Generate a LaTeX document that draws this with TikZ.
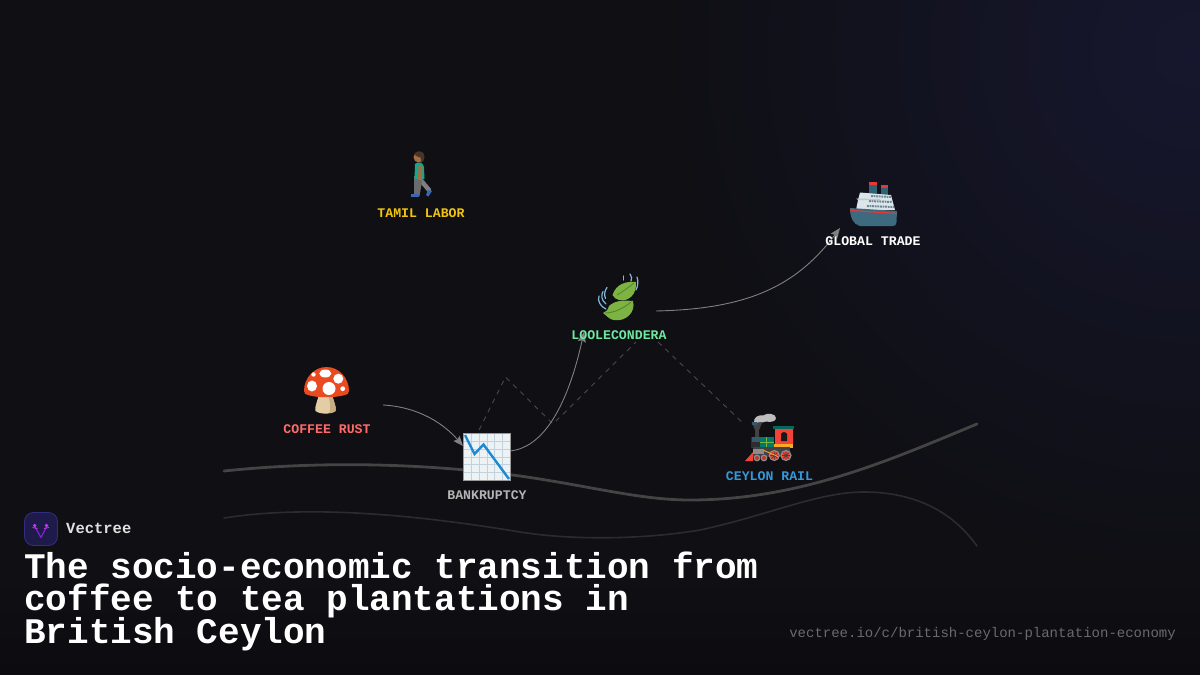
\documentclass[tikz,border=0pt]{standalone}
\usepackage{fontspec}
\setmonofont{Liberation Mono}
\usetikzlibrary{arrows.meta,calc}
\definecolor{bgbase}{HTML}{0F0F14}
\definecolor{bgdark}{HTML}{0C0C10}
\definecolor{glow}{HTML}{16172E}
\definecolor{ridge}{HTML}{444444}
\definecolor{ridgethin}{HTML}{2C2C30}
\definecolor{linkc}{HTML}{808080}
\definecolor{dashc}{HTML}{4A4A4E}
\definecolor{capred}{HTML}{EA4A20}
\definecolor{stemc}{HTML}{E3CDA4}
\definecolor{stemd}{HTML}{C9AE82}
\definecolor{gridc}{HTML}{C3D2DA}
\definecolor{paper}{HTML}{EDF2F5}
\definecolor{chartblue}{HTML}{1B8AD3}
\definecolor{skin}{HTML}{A56C43}
\definecolor{hair}{HTML}{4A3428}
\definecolor{shirt}{HTML}{13A88E}
\definecolor{pants}{HTML}{7E7E7E}
\definecolor{shoe}{HTML}{3A66B5}
\definecolor{hull}{HTML}{3E6A80}
\definecolor{funnel}{HTML}{2F6275}
\definecolor{redc}{HTML}{E53935}
\definecolor{deck}{HTML}{DCE5EA}
\definecolor{deckd}{HTML}{6F8794}
\definecolor{leafg}{HTML}{7CB342}
\definecolor{leafd}{HTML}{558B2F}
\definecolor{wind}{HTML}{81B9DC}
\definecolor{cab}{HTML}{F44336}
\definecolor{roofc}{HTML}{00695C}
\definecolor{bandy}{HTML}{F9A825}
\definecolor{boiler}{HTML}{00796B}
\definecolor{iron}{HTML}{424242}
\definecolor{steel}{HTML}{37596B}
\definecolor{smoke}{HTML}{BDBDBD}
\definecolor{logobg}{HTML}{1E1B4B}
\definecolor{logoedge}{HTML}{312E81}
\definecolor{logodark}{HTML}{7E22CE}
\definecolor{logolite}{HTML}{C03DE0}
\definecolor{cyellow}{HTML}{F1C40F}
\definecolor{cgreen}{HTML}{6EE7A0}
\definecolor{cred}{HTML}{FF6B6B}
\definecolor{cgray}{HTML}{B4B4B4}
\definecolor{cblue}{HTML}{3498DB}
\definecolor{urlc}{HTML}{6B6B6B}
\tikzset{
  x=1pt,y=-1pt,
  nodelabel/.style={font=\ttfamily\bfseries\fontsize{13.2}{13.2}\selectfont,anchor=base,inner sep=0pt},
  titleline/.style={font=\ttfamily\bfseries\fontsize{36}{36}\selectfont,anchor=base west,inner sep=0pt,text=white},
  iconbox/.style={inner sep=0pt,minimum size=48pt,draw=none},
  flow/.style={draw=linkc,line width=.9pt,-{Stealth[length=10pt,width=8pt,inset=1.5pt,color=linkc]}},
  dashlink/.style={draw=dashc,line width=.9pt,dash pattern=on 5pt off 5pt},
  windline/.style={draw=wind,line width=1.2pt,line cap=round},
}
\begin{document}
\begin{tikzpicture}
\useasboundingbox (0,0) rectangle (1200,675);
\fill[bgbase] (0,0) rectangle (1200,675);
\begin{scope}
\clip (0,0) rectangle (1200,675);
\shade[inner color=glow,outer color=bgbase] (1190,50) circle[radius=520];
\shade[top color=bgbase,bottom color=bgdark] (0,575) rectangle (1200,675);
\end{scope}
% ground curves
\draw[ridge,line width=2.8pt,line cap=round] (224,471) .. controls (320,461) and (420,463) .. (520,476) .. controls (590,486) and (640,500) .. (690,500) .. controls (800,500) and (890,460) .. (977,424);
\draw[ridgethin,line width=1.6pt,line cap=round] (224,518) .. controls (300,506) and (400,512) .. (520,532) .. controls (570,540) and (640,540) .. (700,530) .. controls (770,515) and (820,491) .. (867,492) .. controls (920,493) and (955,515) .. (977,546);
% icon anchors
\node[iconbox] (walker) at (419,174) {};
\node[iconbox] (ship) at (873,204) {};
\node[iconbox] (leaf) at (619,297) {};
\node[iconbox] (rust) at (326,390) {};
\node[iconbox] (chart) at (487,457) {};
\node[iconbox] (train) at (770,438) {};
\coordinate (rustout) at ([shift={(57,15)}]rust.center);
\coordinate (chartin) at ([shift={(-24,-11)}]chart.center);
\coordinate (chartout) at ([shift={(23,-6)}]chart.center);
\coordinate (leafin) at ([shift={(-35,35)}]leaf.center);
\coordinate (leafout) at ([shift={(37,14)}]leaf.center);
\coordinate (shipin) at ([shift={(-33,24)}]ship.center);
\coordinate (bend1) at (505.5,377);
\coordinate (bend2) at (553,424);
% connectors
\draw[dashlink] ([shift={(-8,-27)}]chart.center) -- (bend1) -- (bend2) -- ([shift={(17,45)}]leaf.center);
\draw[dashlink] ([shift={(39,45)}]leaf.center) -- ([shift={(-26,-14)}]train.center);
\draw[flow] (rustout) .. controls (420,407) and (445,425) .. (chartin);
\draw[flow] (chartout) .. controls (548,447) and (570,395) .. (leafin);
\draw[flow] (leafout) .. controls (745,309) and (795,288) .. (shipin);
% walker
\draw[pants,line width=4.5pt,line cap=round,line join=round] (418,177) -- (429,190);
\fill[pants!85!black] (414,176) -- (423,176) -- (419.5,196) -- (414,196) -- cycle;
\fill[shirt] (415,164) .. controls (418,161) and (423,162) .. (424,167) -- (424.5,179) -- (414.5,179) -- cycle;
\fill[skin] (418.5,165.5) -- (422.5,165.5) -- (422,180) -- (418,180) -- cycle;
\fill[skin] (418.7,157.3) circle[radius=5.2];
\fill[hair] (414,154) .. controls (417,149.5) and (424.5,150.5) .. (424.5,156.5) .. controls (424.5,159.5) and (423,162) .. (421.5,163) -- (420.5,157.5) .. controls (418,157) and (415.5,156) .. (414,154) -- cycle;
\fill[shoe] (411,193.5) -- (418.5,193.5) -- (418.5,197) -- (411,197) -- cycle;
\fill[shoe] (428,190) -- (432,191) -- (428.5,196.5) -- (426,195) -- cycle;
% ship
\fill[funnel] (869,183) rectangle (876.5,195);
\fill[redc] (869,181.5) rectangle (876.5,185);
\fill[funnel] (881,186) rectangle (888,196);
\fill[redc] (881,184.5) rectangle (888,188);
\fill[deck] (860,192.5) -- (891,195) -- (895,210) -- (856,210) -- (858,200) -- cycle;
\foreach \yy/\xa/\xb in {196/871/891,201/869/892,206/867/894}{
  \draw[deckd,line width=2pt,dash pattern=on 1.8pt off .8pt] (\xa,\yy) -- (\xb,\yy+1);
}
\fill[deck!70!deckd] (856,198.5) -- (880,199) -- (880,200) -- (858,200) -- cycle;
\fill[hull] (850,208) -- (897,211) -- (896.5,222) .. controls (896.5,225) and (895,226) .. (893,226) -- (860,226) .. controls (853,224.5) and (850,217) .. (850,208) -- cycle;
\draw[redc,line width=1.2pt] (850,210.5) -- (897,213.5);
% leaves
\fill[leafg] (612.5,295) .. controls (616,284) and (626,281) .. (636,282) .. controls (637,294) and (629,302) .. (619,300) .. controls (616,299.5) and (614,297.5) .. (612.5,295) -- cycle;
\draw[leafd,line width=.9pt] (617,295) .. controls (622,292) and (628,288) .. (634,283);
\fill[leafg] (603,313) .. controls (606,312) and (608,310) .. (609,306) .. controls (615,300.5) and (623,300) .. (633,301) .. controls (636,312) and (626,322) .. (614,320) .. controls (610,320) and (607,316) .. (603,313) -- cycle;
\draw[leafd,line width=1pt] (605,313) .. controls (614,313) and (624,308) .. (631,302);
\draw[windline] (607,287.5) .. controls (604.5,291) and (604,295) .. (605.5,298.5);
\draw[windline] (603,291.5) .. controls (601,295) and (601,300) .. (606,304);
\draw[windline] (599,296) .. controls (597,301) and (601,307) .. (606,309);
\draw[windline] (623.5,276) -- (623.5,280);
\draw[windline] (630,274) .. controls (632,276) and (632,279) .. (631,281);
\draw[windline] (637,277) .. controls (638.5,281) and (638,286) .. (636,290);
% mushroom
\fill[stemc] (319,393) -- (332,393) .. controls (333,401) and (337,407) .. (335.5,411) .. controls (331,414.5) and (320,414.5) .. (315.5,411) .. controls (314,407) and (318,401) .. (319,393) -- cycle;
\fill[stemd] (328,394) -- (332,394) .. controls (333,401) and (337,407) .. (335.5,411) .. controls (334,412.5) and (331,413) .. (329,413) .. controls (332,406) and (329,400) .. (328,394) -- cycle;
\fill[capred] (304,391) .. controls (304,378) and (314,367) .. (326.5,367) .. controls (339,367) and (349,378) .. (349,391) .. controls (349,394) and (347,394.5) .. (345,395) .. controls (335,398) and (317,398) .. (308,395) .. controls (306,394.5) and (304,394) .. (304,391) -- cycle;
\fill[white] (325.3,373.5) ellipse[x radius=6,y radius=4];
\fill[white] (338.3,378.7) ellipse[x radius=5,y radius=5];
\fill[white] (312,386) ellipse[x radius=5,y radius=5.5];
\fill[white] (329,388.5) ellipse[x radius=6.5,y radius=6.5];
\fill[white] (342.7,388.7) circle[radius=2.4];
\fill[white] (313.5,374.5) circle[radius=2.2];
% chart
\fill[paper] (463.5,433.5) rectangle (510.5,480.5);
\foreach \k in {1,...,5}{
  \draw[gridc,line width=.7pt] (463.5+\k*7.83,433.5) -- (463.5+\k*7.83,480.5);
  \draw[gridc,line width=.7pt] (463.5,433.5+\k*7.83) -- (510.5,433.5+\k*7.83);
}
\draw[gray!80,line width=.8pt] (463.5,433.5) rectangle (510.5,480.5);
\draw[chartblue,line width=2.4pt,line join=miter] (465,435) -- (474.5,454) -- (483.5,444.5) -- (509,479);
% train
\fill[smoke] (754,423) .. controls (753,417) and (759,414.5) .. (763,415.5) .. controls (767,412.5) and (776,413.5) .. (776,418) .. controls (776,421.5) and (771,422.5) .. (766,421.5) .. controls (762,423.5) and (758,421) .. (756,424) -- cycle;
\fill[iron] (751.5,422) -- (762,423) -- (759,430) -- (759,438) -- (755,438) -- (755,430) -- cycle;
\fill[steel] (752,421.5) rectangle (757,424.5);
\fill[cab] (775,428) rectangle (792.5,445);
\fill[roofc] (773,426) rectangle (793.5,429);
\fill[black!90] (781,441) -- (781,434) .. controls (782,431.5) and (786,431.5) .. (787,434) -- (787,441) -- cycle;
\fill[bandy] (774,444) rectangle (793,448);
\fill[iron!70!black] (751,437) rectangle (760,448);
\fill[steel] (752,437) rectangle (760,442);
\fill[boiler] (760,437) rectangle (774,448);
\draw[leafg,line width=.7pt] (766,437) -- (766,448) (760,442) -- (774,442);
\fill[iron] (753,447) rectangle (790,457);
\fill[black!45] (753,449) rectangle (764,454);
\fill[cab] (745,461) -- (753,461) -- (753,452) -- cycle;
\foreach \cx in {774.3,786}{
  \fill[iron!60] (\cx,455.5) circle[radius=5.6];
  \fill[cab] (\cx,455.5) circle[radius=4.3];
  \draw[iron,line width=.7pt] (\cx-4,455.5) -- (\cx+4,455.5) (\cx,451.5) -- (\cx,459.5) (\cx-3,452.5) -- (\cx+3,458.5) (\cx-3,458.5) -- (\cx+3,452.5);
}
\foreach \cx in {757,764}{
  \fill[iron!60] (\cx,458) circle[radius=3.4];
  \fill[cab!80!black] (\cx,458) circle[radius=2];
}
\draw[bandy,line width=.9pt] (764,450.5) -- (778,456.5);
% labels
\node[nodelabel,text=cyellow] (tamillabel) at (421,217) {TAMIL LABOR};
\node[nodelabel,text=white] (tradelabel) at (873,245) {GLOBAL TRADE};
\node[nodelabel,text=cgreen] (leaflabel) at (619,339) {LOOLECONDERA};
\node[nodelabel,text=cred] (rustlabel) at (327,433) {COFFEE RUST};
\node[nodelabel,text=cgray] (chartlabel) at (487,499) {BANKRUPTCY};
\node[nodelabel,text=cblue] (raillabel) at (769.5,480) {CEYLON RAIL};
% logo
\node[draw=logoedge,fill=logobg,rounded corners=9pt,line width=.8pt,minimum size=33pt,inner sep=0pt] (logo) at (41,529) {};
\draw[logodark,line width=1.2pt,line join=round] ([shift={(-6.5,-3)}]logo.center) -- ([shift={(0,8.5)}]logo.center) -- ([shift={(6,-3)}]logo.center);
\fill[logolite] ([shift={(-6.3,-3.5)}]logo.center) circle[radius=1.8];
\fill[logolite] ([shift={(5.5,-3.5)}]logo.center) circle[radius=1.8];
\draw[logolite,line width=.8pt] ([shift={(-8.5,-1.5)}]logo.center) -- ([shift={(-3.5,-.5)}]logo.center);
\draw[logolite,line width=.8pt] ([shift={(3,-.5)}]logo.center) -- ([shift={(8,-1.5)}]logo.center);
\node[font=\ttfamily\bfseries\fontsize{15.5}{15.5}\selectfont,anchor=base west,inner sep=0pt,text=white!88!black] (brand) at (66,533) {Vectree};
% title
\node[titleline] (title1) at (24,578.5) {The socio-economic transition from};
\node[titleline] (title2) at (24,610.5) {coffee to tea plantations in};
\node[titleline] (title3) at (24,643.5) {British Ceylon};
\node[font=\ttfamily\fontsize{14}{14}\selectfont,anchor=base east,inner sep=0pt,text=urlc] (url) at (1176,637) {vectree.io/c/british-ceylon-plantation-economy};
\end{tikzpicture}
\end{document}
